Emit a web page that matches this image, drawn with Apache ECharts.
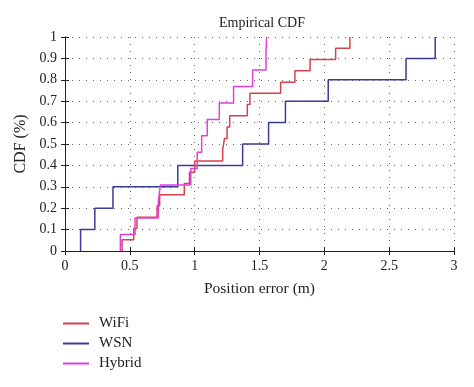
<!DOCTYPE html>
<html>
<head>
<meta charset="utf-8">
<script src="https://cdn.jsdelivr.net/npm/echarts@6/dist/echarts.min.js"></script>
<style>
html,body{margin:0;padding:0;background:#fff;}
#chart{width:474px;height:387px;}
</style>
</head>
<body>
<div id="chart"></div>
<script>
// Sorted sample positions (m) where each CDF step occurs, and the CDF level after each step
const wifiX = [0.44, 0.53, 0.555, 0.71, 0.73, 0.92, 0.96, 1.0, 1.216, 1.23, 1.25, 1.27, 1.406, 1.426, 1.663, 1.773, 1.89, 2.087, 2.197];
const wifiCdf = [0.053, 0.105, 0.158, 0.211, 0.263, 0.316, 0.368, 0.421, 0.474, 0.526, 0.579, 0.632, 0.684, 0.737, 0.789, 0.842, 0.895, 0.947, 1.0];
const wsnX = [0.12, 0.23, 0.37, 0.87, 1.37, 1.57, 1.70, 2.03, 2.63, 2.855];
const wsnCdf = [0.1, 0.2, 0.3, 0.4, 0.5, 0.6, 0.7, 0.8, 0.9, 1.0];
const hybridX = [0.427, 0.54, 0.72, 0.735, 0.97, 1.02, 1.054, 1.097, 1.19, 1.30, 1.447, 1.55, 1.555];
const hybridCdf = [0.077, 0.154, 0.231, 0.308, 0.385, 0.462, 0.538, 0.615, 0.692, 0.769, 0.846, 0.923, 1.0];
const seriesNames = ['WiFi', 'WSN', 'Hybrid'];
const xTicks = [0, 0.5, 1, 1.5, 2, 2.5, 3];
const yTicks = [0, 0.1, 0.2, 0.3, 0.4, 0.5, 0.6, 0.7, 0.8, 0.9, 1];

function stepData(xs, ys) {
  const d = [[xs[0], 0]];
  for (let i = 0; i < xs.length; i++) d.push([xs[i], ys[i]]);
  return d;
}

const font = 'Liberation Serif, DejaVu Serif, serif';
const chart = echarts.init(document.getElementById('chart'), null, {renderer: 'canvas'});

const gridLine = {show: true, lineStyle: {color: '#666', type: [1, 6], width: 1}};
const axisLine = {show: true, lineStyle: {color: '#222', width: 1}};
const tickIn = {show: true, inside: true, length: 4, lineStyle: {color: '#222'}};

chart.setOption({
  animation: false,
  backgroundColor: '#fff',
  title: {
    text: 'Empirical CDF', left: 214, top: 11,
    textStyle: {fontFamily: font, fontSize: 14, fontWeight: 'normal', color: '#222'}
  },
  grid: {left: 65, right: 20, top: 37, bottom: 136},
  legend: {
    orient: 'vertical', left: 58, top: 311, itemWidth: 26, itemHeight: 2, itemGap: 5,
    icon: 'rect',
    data: seriesNames,
    textStyle: {fontFamily: font, fontSize: 15, color: '#222', padding: [0, 0, 0, 5]}
  },
  xAxis: [{
    type: 'value', min: xTicks[0], max: xTicks[xTicks.length - 1], interval: xTicks[1] - xTicks[0],
    position: 'bottom',
    name: 'Position error (m)', nameLocation: 'middle', nameGap: 30,
    nameTextStyle: {fontFamily: font, fontSize: 15.5, color: '#222'},
    axisLine: axisLine, axisTick: tickIn, splitLine: gridLine,
    axisLabel: {fontFamily: font, fontSize: 14, color: '#222', margin: 8}
  }, {
    type: 'value', min: xTicks[0], max: xTicks[xTicks.length - 1], interval: xTicks[1] - xTicks[0],
    position: 'top',
    axisLine: axisLine, axisTick: tickIn, splitLine: {show: false}, axisLabel: {show: false}
  }],
  yAxis: [{
    type: 'value', min: yTicks[0], max: yTicks[yTicks.length - 1], interval: 0.1,
    position: 'left',
    name: 'CDF (%)', nameLocation: 'middle', nameGap: 28,
    nameTextStyle: {fontFamily: font, fontSize: 16, color: '#222'},
    axisLine: axisLine, axisTick: tickIn, splitLine: gridLine,
    axisLabel: {fontFamily: font, fontSize: 14, color: '#222', margin: 8}
  }, {
    type: 'value', min: yTicks[0], max: yTicks[yTicks.length - 1], interval: 0.1,
    position: 'right',
    axisLine: axisLine, axisTick: tickIn, splitLine: {show: false}, axisLabel: {show: false}
  }],
  series: [
    {name: seriesNames[0], type: 'line', step: 'end', symbol: 'none', data: stepData(wifiX, wifiCdf),
     lineStyle: {color: '#d4434c', width: 1.5}, itemStyle: {color: '#d4434c'}, z: 3},
    {name: seriesNames[1], type: 'line', step: 'end', symbol: 'none', data: stepData(wsnX, wsnCdf),
     lineStyle: {color: '#3a3a98', width: 1.5}, itemStyle: {color: '#3a3a98'}, z: 2},
    {name: seriesNames[2], type: 'line', step: 'end', symbol: 'none', data: stepData(hybridX, hybridCdf),
     lineStyle: {color: '#e03fdc', width: 1.5}, itemStyle: {color: '#e03fdc'}, z: 4}
  ]
});
</script>
</body>
</html>
